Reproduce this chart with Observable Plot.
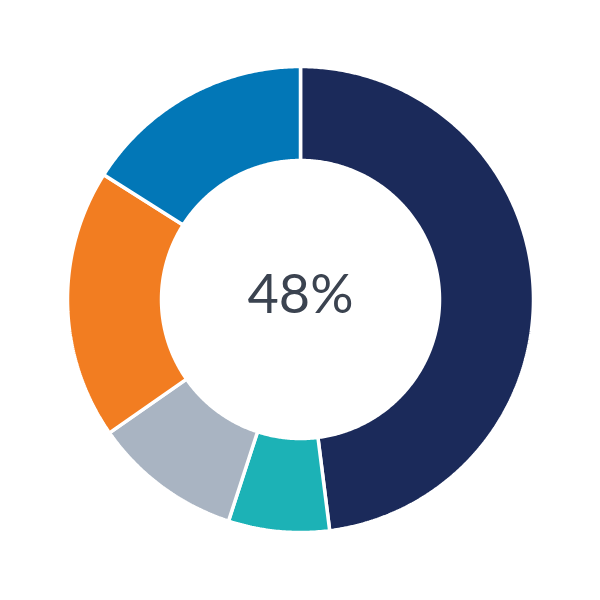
<!DOCTYPE html>
<html>
<head>
<meta charset="utf-8">
<script src="https://cdn.jsdelivr.net/npm/d3@7"></script>
<script src="https://cdn.jsdelivr.net/npm/@observablehq/plot@0.6"></script>
<style>
  html, body { margin: 0; padding: 0; background: #fff; }
  #chart { width: 600px; height: 600px; }
</style>
</head>
<body>
<div id="chart"></div>
<script>
// Data
const categories = ["A", "B", "C", "D", "E"];
const values = [48, 7, 10.3, 18.7, 16];
const colors = ["#1b2a5a", "#1cb2b6", "#a9b4c2", "#f27d21", "#0277b7"];
const centerLabel = ["48%"];

const outerR = 233, innerR = 139;

const pie = d3.pie().sort(null).value(d => d.value);
const arcs = pie(categories.map((name, i) => ({name, value: values[i]})));

// Build slice outlines (polar -> cartesian), y up, clockwise from top
const pts = [];
for (const a of arcs) {
  const n = Math.max(8, Math.ceil((a.endAngle - a.startAngle) / (Math.PI / 360)));
  for (let k = 0; k <= n; k++) {
    const t = a.startAngle + (a.endAngle - a.startAngle) * k / n;
    pts.push({name: a.data.name, x: outerR * Math.sin(t), y: outerR * Math.cos(t)});
  }
  for (let k = n; k >= 0; k--) {
    const t = a.startAngle + (a.endAngle - a.startAngle) * k / n;
    pts.push({name: a.data.name, x: innerR * Math.sin(t), y: innerR * Math.cos(t)});
  }
}

const chart = Plot.plot({
  width: 600,
  height: 600,
  margin: 0,
  x: {domain: [-300, 300], axis: null},
  y: {domain: [-301, 299], axis: null},
  color: {domain: categories, range: colors},
  marks: [
    Plot.line(pts, {
      x: "x", y: "y", z: "name",
      fill: "name",
      stroke: "white",
      strokeWidth: 3.5,
      strokeLinejoin: "miter",
      curve: "linear-closed"
    }),
    Plot.text(centerLabel, {
      x: () => 0, y: () => 4,
      text: d => d,
      fontSize: 54,
      fontWeight: 400,
      fontFamily: "Lato, 'Open Sans', sans-serif",
      fill: "#3b4350",
      textAnchor: "middle",
      lineAnchor: "middle"
    })
  ]
});
document.getElementById("chart").appendChild(chart);
</script>
</body>
</html>
